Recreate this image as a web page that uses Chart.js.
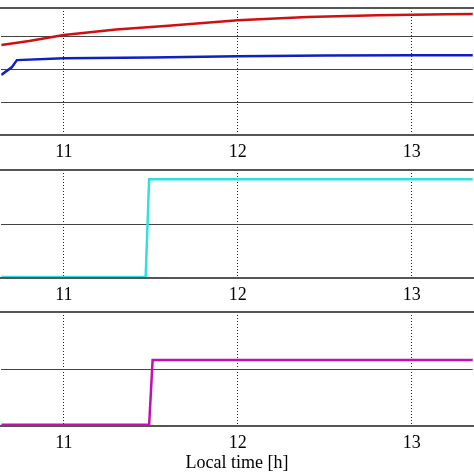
<!DOCTYPE html>
<html>
<head>
<script src="https://cdn.jsdelivr.net/npm/chart.js@4"></script>
<style>
  body { margin: 0; background: #fff; width: 474px; height: 474px; overflow: hidden; position: relative; }
  .box { position: absolute; left: 0; width: 474px; }
</style>
</head>
<body>
<div class="box" style="top:0;height:165px"><canvas id="c1"></canvas></div>
<div class="box" style="top:162px;height:146px"><canvas id="c2"></canvas></div>
<div class="box" style="top:304px;height:170px"><canvas id="c3"></canvas></div>
<script>
const xTicks = [11, 12, 13];
const xMin = 10.64, xMax = 13.35;

const redX = [10.64, 10.8, 11.0, 11.3, 11.6, 12.0, 12.4, 12.8, 13.2, 13.36];
const redY = [2.73, 2.85, 3.03, 3.2, 3.31, 3.48, 3.58, 3.63, 3.66, 3.67];
const blueX = [10.64, 10.7, 10.73, 11.0, 11.5, 12.0, 12.5, 13.0, 13.36];
const blueY = [1.82, 2.05, 2.27, 2.33, 2.35, 2.39, 2.41, 2.42, 2.42];
const cyanX = [10.64, 11.47, 11.49, 13.36];
const cyanY = [0.02, 0.02, 1.83, 1.83];
const magentaX = [10.64, 11.49, 11.51, 13.36];
const magentaY = [0.02, 0.02, 1.16, 1.16];

const pts = (xs, ys) => xs.map((x, i) => ({ x: x, y: ys[i] }));

const frame = {
    id: 'frame',
    afterDraw(chart) {
        const a = chart.chartArea, ctx = chart.ctx;
        ctx.save();
        ctx.strokeStyle = '#555';
        ctx.lineWidth = 2;
        ctx.strokeRect(a.left - 5, a.top, a.right - a.left + 10, a.bottom - a.top);
        ctx.restore();
    }
};

function makeChart(id, sets, yMax, yStep, axisHeight, title) {
    return new Chart(document.getElementById(id), {
        type: 'line',
        data: {
            datasets: sets.map(s => ({
                data: s.data, borderColor: s.color, borderWidth: 2.5,
                pointRadius: 0, tension: 0
            }))
        },
        options: {
            responsive: true, maintainAspectRatio: false, animation: false,
            layout: { padding: { top: 8, left: 0, right: 0 } },
            plugins: { legend: { display: false }, tooltip: { enabled: false } },
            scales: {
                x: {
                    type: 'linear', min: xMin, max: xMax,
                    afterBuildTicks: s => { s.ticks = xTicks.map(v => ({ value: v })); },
                    afterFit: s => { s.height = axisHeight; },
                    grid: { color: '#222', drawTicks: false },
                    border: { display: false },
                    ticks: { color: '#000', padding: 6, font: { family: 'Liberation Serif', size: 18 } },
                    title: { display: !!title, text: title || '', color: '#000', padding: 0,
                             font: { family: 'Liberation Serif', size: 18 } }
                },
                y: {
                    display: true, min: 0, max: yMax,
                    afterFit: s => { s.width = 0; },
                    ticks: { display: false, stepSize: yStep },
                    grid: { color: '#444', drawTicks: false },
                    border: { display: false }
                }
            }
        },
        plugins: [frame]
    });
}

const c1 = makeChart('c1', [
    { data: pts(redX, redY), color: '#d01010' },
    { data: pts(blueX, blueY), color: '#1020c0' }
], 3.85, 1, 30);
const c2 = makeChart('c2', [{ data: pts(cyanX, cyanY), color: '#30e0e0' }], 2, 1, 30);
const c3 = makeChart('c3', [{ data: pts(magentaX, magentaY), color: '#c010b0' }], 2, 1, 48, 'Local time [h]');
[c1, c2, c3].forEach(c => {
    c.options.scales.x.border.dash = [1, 2];
    c.options.scales.x.grid.borderDash = [1, 2];
    c.options.scales.y.grid.borderDash = [1, 2];
    c.update();
});
</script>
</body>
</html>
